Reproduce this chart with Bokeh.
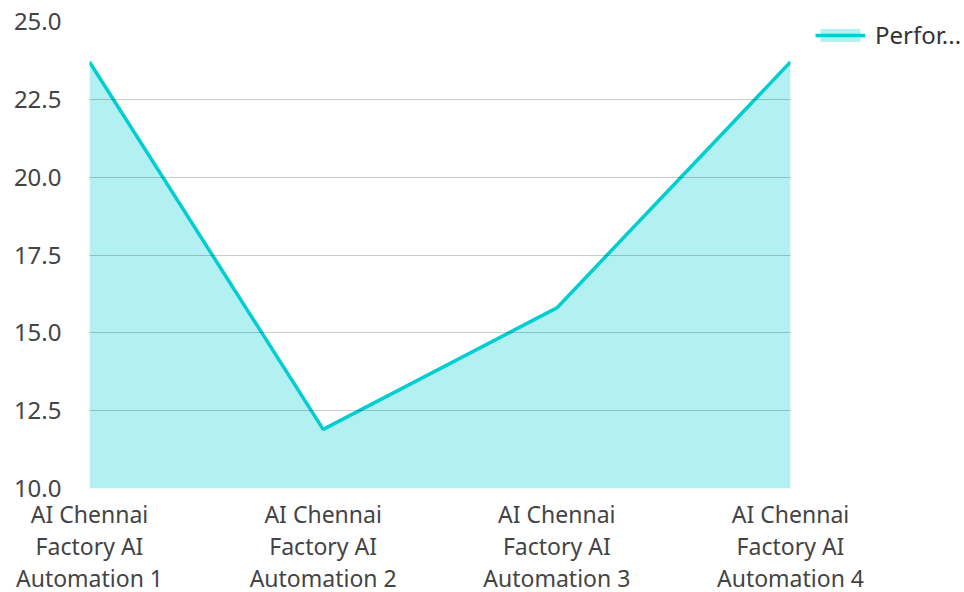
from bokeh.plotting import figure
from bokeh.models import ColumnDataSource, Legend, LegendItem, FixedTicker, Range1d, NumeralTickFormatter
from bokeh.embed import file_html
from bokeh.resources import INLINE

categories = ["AI Chennai\nFactory AI\nAutomation 1", "AI Chennai\nFactory AI\nAutomation 2",
              "AI Chennai\nFactory AI\nAutomation 3", "AI Chennai\nFactory AI\nAutomation 4"]
values = [23.7, 11.9, 15.8, 23.7]
y_ticks = [10.0, 12.5, 15.0, 17.5, 20.0, 22.5, 25.0]
series_name = "Perfor..."

xs = list(range(len(categories)))
src = ColumnDataSource(dict(x=xs, y=values, base=[y_ticks[0]] * len(xs)))

p = figure(frame_width=701, frame_height=467, output_backend="svg", toolbar_location=None,
           x_range=Range1d(0, len(xs) - 1), y_range=Range1d(y_ticks[0], y_ticks[-1]),
           min_border_left=89, min_border_right=0, min_border_top=21, min_border_bottom=104)
p.outline_line_color = None
p.background_fill_color = "white"

area = p.varea(x="x", y1="base", y2="y", source=src, fill_color="#00CED1", fill_alpha=0.3)
line = p.line(x="x", y="y", source=src, line_color="#00CED1", line_width=3.5)

p.xaxis.ticker = FixedTicker(ticks=xs)
p.xaxis.major_label_overrides = {i: c for i, c in enumerate(categories)}
p.yaxis.ticker = FixedTicker(ticks=y_ticks)
p.yaxis.formatter = NumeralTickFormatter(format="0.0")
for ax in (p.xaxis, p.yaxis):
    ax.axis_line_color = None
    ax.major_tick_line_color = None
    ax.minor_tick_line_color = None
    ax.major_label_text_font = "Noto Sans"
    ax.major_label_text_font_size = "24px"
    ax.major_label_text_color = "#444444"
p.xaxis.major_label_text_font_size = "23px"
p.xaxis.major_label_text_line_height = 1.0
p.xaxis.major_label_standoff = 3
p.yaxis.major_label_standoff = 22

p.xgrid.grid_line_color = None
p.ygrid.grid_line_color = "black"
p.ygrid.grid_line_alpha = 0.2
p.ygrid.level = "overlay"

legend = Legend(items=[LegendItem(label=series_name, renderers=[area, line])],
                location=(25, 467 - 10 - 20), border_line_color=None, background_fill_alpha=0,
                label_text_font="Noto Sans", label_text_font_size="24px", label_text_color="#333333",
                glyph_width=50, glyph_height=16, padding=0, margin=0, label_standoff=10,
                label_height=16)
p.add_layout(legend, "right")

open("out.html", "w").write(file_html(p, INLINE))
